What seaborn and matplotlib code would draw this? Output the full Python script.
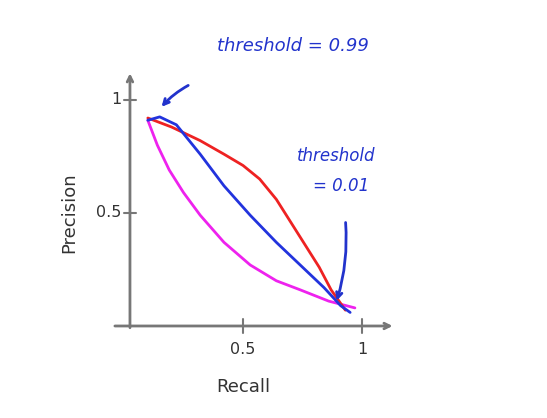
import matplotlib
matplotlib.use("Agg")
import matplotlib.pyplot as plt
import seaborn as sns
import pandas as pd

red_x = [0.10, 0.20, 0.32, 0.42, 0.50, 0.57, 0.64, 0.70, 0.76, 0.82, 0.87, 0.93]
red_y = [0.92, 0.88, 0.82, 0.76, 0.71, 0.65, 0.56, 0.46, 0.36, 0.26, 0.16, 0.07]
blue_x = [0.10, 0.15, 0.22, 0.32, 0.42, 0.53, 0.64, 0.74, 0.84, 0.91, 0.95]
blue_y = [0.91, 0.925, 0.89, 0.76, 0.62, 0.49, 0.37, 0.27, 0.17, 0.09, 0.06]
mag_x = [0.10, 0.14, 0.19, 0.25, 0.32, 0.42, 0.53, 0.64, 0.74, 0.86, 0.97]
mag_y = [0.91, 0.80, 0.69, 0.59, 0.49, 0.37, 0.27, 0.20, 0.16, 0.11, 0.08]

sns.set_style("white")
fig = plt.figure(figsize=(5.47, 4.18), dpi=100)
ax = fig.add_axes([0, 0, 1, 1])
ax.set_xlim(-0.521, 1.777)
ax.set_ylim(-0.407, 1.442)
ax.axis("off")

for xs, ys, c in [(mag_x, mag_y, "#ee22ee"), (red_x, red_y, "#ee2222"), (blue_x, blue_y, "#2233dd")]:
    df = pd.DataFrame({"x": xs, "y": ys})
    sns.lineplot(data=df, x="x", y="y", sort=False, color=c, lw=2, ax=ax, estimator=None)

grey = "#777777"
ax.annotate("", xy=(1.14, 0.0), xytext=(-0.05, 0.0),
            arrowprops=dict(arrowstyle="->", color=grey, lw=2))
ax.annotate("", xy=(0.025, 1.13), xytext=(0.025, -0.02),
            arrowprops=dict(arrowstyle="->", color=grey, lw=2))
for xv in [0.5, 1.0]:
    ax.plot([xv, xv], [-0.03, 0.03], color=grey, lw=1.5)
    ax.text(xv, -0.07, "0.5" if xv == 0.5 else "1", ha="center", va="top", fontsize=11.5, color="#333333")
for yv in [0.5, 1.0]:
    ax.plot([0.0, 0.05], [yv, yv], color=grey, lw=1.5)
    ax.text(-0.01, yv, "0.5" if yv == 0.5 else "1", ha="right", va="center", fontsize=11.5, color="#333333")
ax.text(0.5, -0.27, "Recall", ha="center", va="center", fontsize=13, color="#333333")
ax.text(-0.23, 0.5, "Precision", ha="center", va="center", rotation=90, fontsize=13, color="#333333")

blue = "#2233cc"
ax.text(0.71, 1.24, "threshold = 0.99", ha="center", va="center", fontsize=13,
        color=blue, style="italic")
ax.text(0.89, 0.75, "threshold", ha="center", va="center", fontsize=12, color=blue, style="italic")
ax.text(0.91, 0.62, "= 0.01", ha="center", va="center", fontsize=12, color=blue, style="italic")
ax.annotate("", xy=(0.15, 0.96), xytext=(0.28, 1.07),
            arrowprops=dict(arrowstyle="->", color=blue, lw=2, connectionstyle="arc3,rad=0.1"))
ax.annotate("", xy=(0.89, 0.1), xytext=(0.93, 0.47),
            arrowprops=dict(arrowstyle="->", color=blue, lw=2, connectionstyle="arc3,rad=-0.1"))

fig.savefig("out.png", dpi=100)
